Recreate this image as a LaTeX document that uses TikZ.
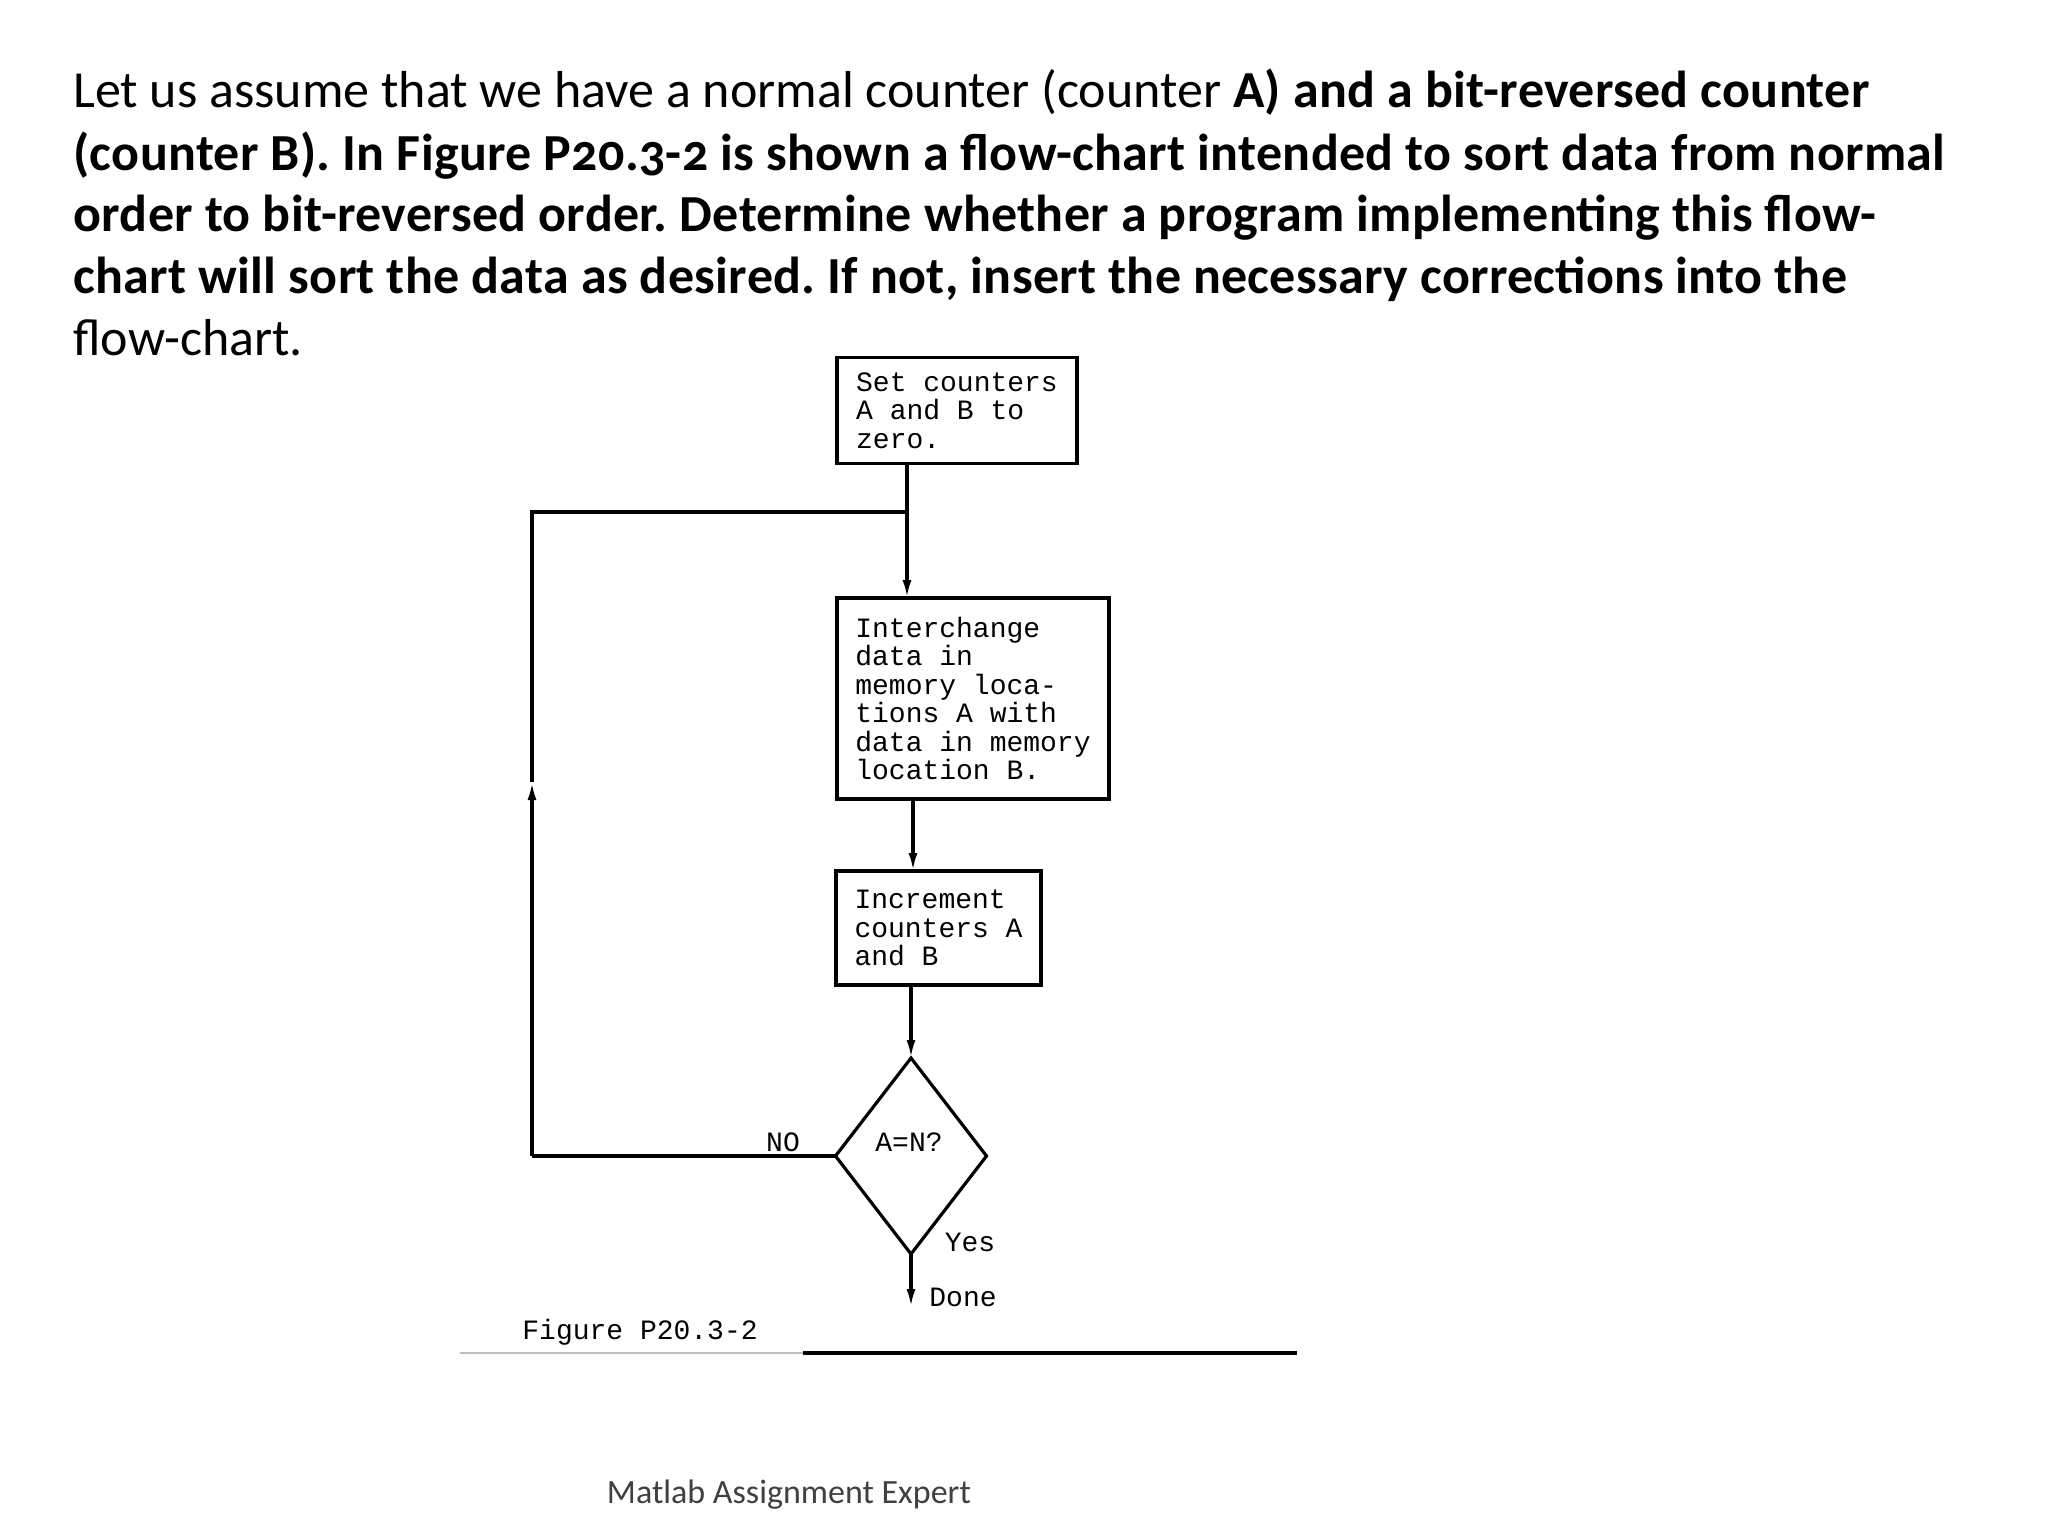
\documentclass[tikz,border=0pt]{standalone}
\usepackage{fontspec}
\setmainfont{Carlito}[Numbers=OldStyle, BoldFeatures={LetterSpace=0.6}]
\newfontfamily\monofont{Liberation Mono}
\usetikzlibrary{arrows.meta,shapes.geometric}
\frenchspacing
\begin{document}
\begin{tikzpicture}[x=0.5pt,y=-0.5pt,
  maintext/.style={anchor=base west, inner sep=0pt, font=\fontsize{26}{31}\selectfont},
  box/.style={draw, line width=1.6pt, font=\monofont\fontsize{14}{14.2}\selectfont,
    align=left, inner sep=0pt, outer sep=0pt},
  lbl/.style={inner sep=0pt, font=\monofont\fontsize{14}{14.2}\selectfont},
  conn/.style={line width=1.6pt},
  arr/.style={conn, -{Latex[length=9pt,width=4.5pt]}}]
\useasboundingbox (0,0) rectangle (2048,1536);

% question text
\node[maintext] (l1) at (73,108) {Let us assume that we have a normal counter (counter \textbf{A) and a bit-reversed counter}};
\node[maintext] (l2) at (73,170) {\textbf{(counter B). In Figure P20.3-2 is shown a flow-chart intended to sort data from normal}};
\node[maintext] (l3) at (73,231) {\textbf{order to bit-reversed order. Determine whether a program implementing this flow-}};
\node[maintext] (l4) at (73,293) {\textbf{chart will sort the data as desired. If not, insert the necessary corrections into the}};
\node[maintext] (l5) at (73,355) {flow-chart.};

% flow-chart
\node[box, minimum width=120pt, minimum height=53pt] (box1) at (957,410.5)
  {Set counters\\A and B to\\zero.};
\node[box, minimum width=136pt, minimum height=100.5pt] (box2) at (973,698.5)
  {Interchange\\data in\\memory loca-\\tions A with\\data in memory\\location B.};
\node[box, minimum width=102.5pt, minimum height=57pt] (box3) at (938.5,928)
  {Increment\\counters A\\and B};
\node[draw, diamond, line width=1.6pt, minimum width=75.5pt, minimum height=98pt,
  inner sep=0pt, outer sep=0pt] (dia) at (911,1156) {};
\node[lbl] (cond) at (909,1142) {A=N?};
\node[lbl] (no) at (783,1142) {NO};
\node[lbl] (yes) at (970,1242) {Yes};
\node[lbl, anchor=west] (donelbl) at (929,1297) {Done};
\node[lbl, anchor=west] (fig) at (522,1332) {Figure P20.3-2};

\coordinate (c1) at (907,512);
\coordinate (c2) at (913,835);
\coordinate (bl) at (532,1156);
\coordinate (upmid) at (532,782);
\coordinate (tl) at (532,512);
\coordinate (done) at (911,1307);

\draw[conn] (box1.south -| c1) -- (c1);
\draw[arr] (c1) -- (box2.north -| c1);
\draw[arr] (box2.south -| c2) -- (box3.north -| c2);
\draw[arr] (box3.south -| dia.north) -- (dia.north);
\draw[arr] (dia.south) -- (done);
\draw[conn] (dia.west) -- (bl);
\draw[arr] (bl) -- (upmid);
\draw[conn] (upmid) -- (tl) -- (c1);

% rules under the figure
\draw[line width=0.9pt, black!25] (460,1353) -- (803,1353);
\draw[line width=2.2pt] (803,1353) -- (1297,1353);

% footer
\node[inner sep=0pt, font=\fontsize{17}{20}\selectfont, text=black!75] (footer) at (789,1495) {Matlab Assignment Expert};
\end{tikzpicture}
\end{document}
